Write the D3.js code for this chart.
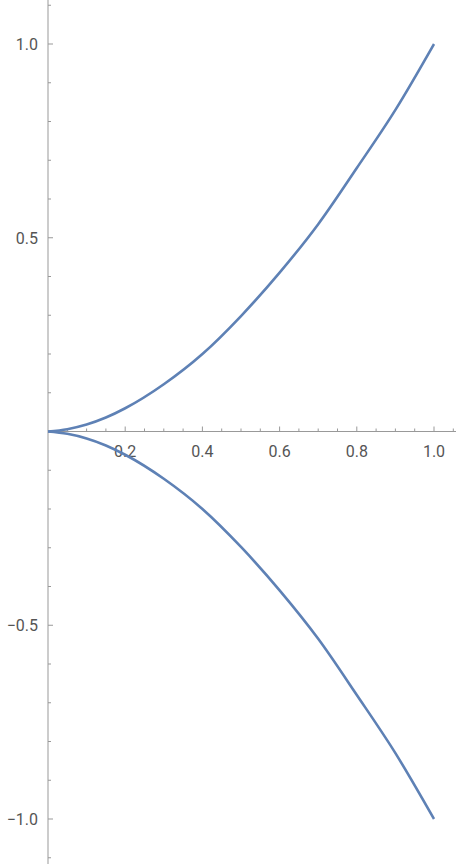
<!DOCTYPE html>
<html><head><meta charset="utf-8">
<script src="https://cdn.jsdelivr.net/npm/d3@7"></script>
<style>body{margin:0;background:#fff}</style>
</head><body>
<svg id="c" width="458" height="864"></svg>
<script>
// values
var xs = [0, 0.05, 0.1, 0.15, 0.2, 0.3, 0.4, 0.5, 0.6, 0.7, 0.8, 0.9, 1.0];
var upper = [0, 0.006, 0.018, 0.036, 0.06, 0.122, 0.2, 0.298, 0.41, 0.535, 0.68, 0.83, 1.0];
var lower = upper.map(function(v) { return -v; });
var xTicks = [0.2, 0.4, 0.6, 0.8, 1.0];
var yTicks = [-1.0, -0.5, 0.5, 1.0];

var svg = d3.select("#c");
var x = d3.scaleLinear().domain([0, 1]).range([48, 434]);
var y = d3.scaleLinear().domain([-1, 1]).range([819, 44]);
var axisColor = "#999", labelColor = "#555";

// x axis
svg.append("line").attr("x1", x(0)).attr("x2", 456).attr("y1", y(0)).attr("y2", y(0))
	.attr("stroke", axisColor).attr("stroke-width", 1);
d3.range(0.05, 1.06, 0.05).forEach(function(t) {
	var major = Math.abs(t * 5 - Math.round(t * 5)) < 1e-6;
	svg.append("line").attr("x1", x(t)).attr("x2", x(t))
		.attr("y1", y(0)).attr("y2", y(0) - (major ? 5 : 3))
		.attr("stroke", axisColor);
});
svg.selectAll(".xl").data(xTicks).enter().append("text")
	.attr("x", function(d) { return x(d); }).attr("y", y(0) + 25)
	.attr("text-anchor", "middle").attr("fill", labelColor)
	.style("font-family", "Roboto, sans-serif").style("font-size", "16px")
	.text(function(d) { return d.toFixed(1); });

// y axis
svg.append("line").attr("x1", x(0)).attr("x2", x(0)).attr("y1", 0).attr("y2", 864)
	.attr("stroke", axisColor);
d3.range(-1.1, 1.11, 0.1).forEach(function(t) {
	var major = Math.abs(t * 2 - Math.round(t * 2)) < 1e-6;
	svg.append("line").attr("x1", x(0)).attr("x2", x(0) + (major ? 5 : 3))
		.attr("y1", y(t)).attr("y2", y(t)).attr("stroke", axisColor);
});
svg.selectAll(".yl").data(yTicks).enter().append("text")
	.attr("x", x(0) - 10).attr("y", function(d) { return y(d) + 6; })
	.attr("text-anchor", "end").attr("fill", labelColor)
	.style("font-family", "Roboto, sans-serif").style("font-size", "16px")
	.text(function(d) { return d < 0 ? "\u2212" + (-d).toFixed(1) : d.toFixed(1); });

// curves
var line = d3.line().x(function(d) { return x(d[0]); }).y(function(d) { return y(d[1]); })
	.curve(d3.curveMonotoneX);
[upper, lower].forEach(function(s) {
	svg.append("path").datum(d3.zip(xs, s)).attr("d", line)
		.attr("fill", "none").attr("stroke", "#5E81B5").attr("stroke-width", 2.6);
});
</script>
</body></html>
